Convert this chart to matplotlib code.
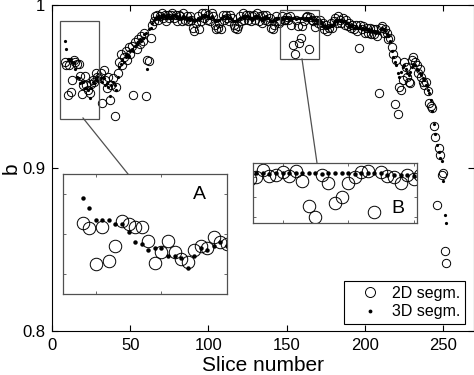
import matplotlib
matplotlib.use('Agg')
import matplotlib.pyplot as plt
from matplotlib.lines import Line2D
from matplotlib.patches import Rectangle

plt.rcParams['font.family'] = ['Liberation Sans', 'DejaVu Sans']

first_slice = 8

dots_3d = [
    # 8-30
    0.978, 0.973, 0.967, 0.967, 0.967, 0.965, 0.965, 0.961, 0.956, 0.955,
    0.952, 0.953, 0.953, 0.949, 0.949, 0.948, 0.943, 0.949, 0.953, 0.952,
    0.954, 0.956, 0.954,
    # 31-41
    0.955, 0.953, 0.955, 0.951, 0.952, 0.950, 0.944, 0.951, 0.953, 0.951, 0.948,
    # 42-66
    0.956, 0.962, 0.964, 0.966, 0.965, 0.968, 0.970, 0.969, 0.972, 0.973,
    0.972, 0.975, 0.976, 0.977, 0.979, 0.978, 0.980, 0.982, 0.983, 0.961,
    0.985, 0.986, 0.989, 0.991, 0.992,
    # 67-145
    0.992, 0.993, 0.992, 0.993, 0.994, 0.993, 0.992, 0.993, 0.993, 0.992,
    0.993, 0.994, 0.993, 0.992, 0.993, 0.992, 0.992, 0.993, 0.992, 0.991,
    0.992, 0.991, 0.992, 0.991, 0.990, 0.991, 0.992, 0.991, 0.992, 0.993,
    0.993, 0.994, 0.993, 0.993, 0.992, 0.993, 0.992, 0.991, 0.990, 0.991,
    0.991, 0.992, 0.993, 0.993, 0.992, 0.993, 0.992, 0.992, 0.991, 0.990,
    0.990, 0.991, 0.991, 0.992, 0.992, 0.993, 0.992, 0.993, 0.993, 0.992,
    0.992, 0.991, 0.992, 0.993, 0.993, 0.992, 0.992, 0.991, 0.992, 0.992,
    0.993, 0.992, 0.991, 0.990, 0.990, 0.991, 0.992, 0.992, 0.992,
    # 146-170
    0.9918, 0.9922, 0.9914, 0.9918, 0.9922, 0.9918, 0.9922, 0.9918, 0.9918, 0.9918,
    0.9914, 0.9918, 0.9922, 0.9922, 0.9918, 0.9914, 0.9918, 0.9922, 0.9918, 0.9918,
    0.9912, 0.9908, 0.9908, 0.9908, 0.9905,
    # 171-212
    0.990, 0.989, 0.988, 0.987, 0.987, 0.986, 0.987, 0.987, 0.988, 0.989,
    0.990, 0.990, 0.991, 0.990, 0.991, 0.990, 0.990, 0.989, 0.989, 0.988,
    0.987, 0.987, 0.986, 0.987, 0.986, 0.986, 0.987, 0.986, 0.985, 0.986,
    0.985, 0.985, 0.984, 0.985, 0.984, 0.984, 0.983, 0.984, 0.983, 0.985,
    0.986, 0.985,
    # 213-252
    0.984, 0.982, 0.981, 0.978, 0.972, 0.968, 0.965, 0.963, 0.958, 0.956,
    0.959, 0.962, 0.963, 0.961, 0.958, 0.957, 0.959, 0.962, 0.964, 0.963,
    0.961, 0.960, 0.958, 0.957, 0.955, 0.954, 0.951, 0.948, 0.946, 0.942,
    0.935, 0.927, 0.921, 0.914, 0.910, 0.906, 0.904, 0.892, 0.871, 0.866,
]

circles_2d = [
    # 8-30
    0.9653, 0.9631, 0.9448, 0.9633, 0.9464, 0.9538, 0.9664, 0.9648, 0.9636, 0.9636,
    0.9564, 0.9456, 0.9510, 0.9564, 0.9510, 0.9477, 0.9460, 0.9518, 0.9540, 0.9530,
    0.9584, 0.9560, 0.9550,
    # 31-41
    0.958, 0.940, 0.960, 0.954, 0.949, 0.956, 0.942, 0.951, 0.955, 0.932, 0.950,
    # 42-66
    0.958, 0.965, 0.970, 0.963, 0.968, 0.972, 0.966, 0.974, 0.970, 0.975,
    0.945, 0.977, 0.973, 0.979, 0.976, 0.981, 0.978, 0.983, 0.944, 0.966,
    0.9655, 0.980, 0.988, 0.990, 0.993,
    # 67-145
    0.994, 0.991, 0.993, 0.995, 0.992, 0.994, 0.990, 0.994, 0.992, 0.994,
    0.995, 0.992, 0.994, 0.990, 0.994, 0.993, 0.990, 0.995, 0.991, 0.993,
    0.990, 0.993, 0.991, 0.986, 0.984, 0.989, 0.993, 0.985, 0.990, 0.995,
    0.992, 0.995, 0.991, 0.994, 0.990, 0.995, 0.993, 0.988, 0.985, 0.986,
    0.989, 0.985, 0.994, 0.991, 0.994, 0.992, 0.990, 0.994, 0.992, 0.988,
    0.986, 0.985, 0.987, 0.993, 0.990, 0.995, 0.991, 0.994, 0.991, 0.994,
    0.990, 0.993, 0.994, 0.991, 0.995, 0.990, 0.993, 0.989, 0.994, 0.991,
    0.994, 0.990, 0.992, 0.986, 0.985, 0.988, 0.993, 0.990, 0.989,
    # 146-170
    0.9900, 0.9935, 0.9905, 0.9910, 0.9925, 0.9905, 0.9930, 0.9880, 0.9755, 0.9700,
    0.9910, 0.9870, 0.9768, 0.9798, 0.9870, 0.9900, 0.9925, 0.9930, 0.9727, 0.9925,
    0.9905, 0.9900, 0.9868, 0.9910, 0.9890,
    # 171-212
    0.991, 0.988, 0.989, 0.985, 0.988, 0.984, 0.986, 0.989, 0.986, 0.990,
    0.992, 0.989, 0.993, 0.991, 0.989, 0.992, 0.988, 0.991, 0.987, 0.989,
    0.986, 0.988, 0.985, 0.988, 0.984, 0.9735, 0.988, 0.985, 0.987, 0.983,
    0.986, 0.983, 0.986, 0.982, 0.985, 0.982, 0.985, 0.981, 0.946, 0.986,
    0.987, 0.983,
    # 213-252
    0.985, 0.983, 0.979, 0.980, 0.974, 0.970, 0.939, 0.966, 0.933, 0.950,
    0.948, 0.954, 0.965, 0.962, 0.956, 0.953, 0.952, 0.966, 0.968, 0.965,
    0.963, 0.958, 0.961, 0.956, 0.953, 0.951, 0.953, 0.947, 0.940, 0.938,
    0.937, 0.926, 0.919, 0.877, 0.912, 0.908, 0.896, 0.897, 0.849, 0.842,
]

slices = list(range(first_slice, first_slice + len(dots_3d)))

x_ticks = [0, 50, 100, 150, 200, 250]
y_ticks = [0.8, 0.9, 1.0]
y_tick_labels = ['0.8', '0.9', '1']

inset_a_xlim = (5, 30)
inset_a_ylim = (0.93, 0.99)
inset_b_xlim = (145.5, 170.5)
inset_b_ylim = (0.967, 0.997)

W, H = 474, 375
fig = plt.figure(figsize=(W / 100, H / 100), dpi=100)

def fx(px):
    return px / W

def fy(py):
    return 1 - py / H

ax = fig.add_axes([fx(52), fy(331), fx(474.5) - fx(52), fy(5) - fy(331)])
ax.plot(slices, circles_2d, 'o', ms=6, mfc='none', mec='black', mew=0.7, label='2D segm.')
ax.plot(slices, dots_3d, 'o', ms=2.3, mfc='black', mec='black', mew=0, label='3D segm.')
ax.set_xlim(0, 270)
ax.set_ylim(0.8, 1.0)
ax.set_xticks(x_ticks)
ax.set_yticks(y_ticks)
ax.set_yticklabels(y_tick_labels)
ax.tick_params(direction='in', top=True, right=True, length=4, width=0.8,
               labelsize=12, pad=5)
ax.set_xlabel('Slice number', fontsize=15, labelpad=2)
ax.set_ylabel('b', fontsize=15, labelpad=1)
for s in ax.spines.values():
    s.set_linewidth(0.8)

frame_col = '#505050'
for (xl, yl) in [(inset_a_xlim, inset_a_ylim), (inset_b_xlim, inset_b_ylim)]:
    ax.add_patch(Rectangle((xl[0], yl[0]), xl[1] - xl[0], yl[1] - yl[0],
                           fill=False, edgecolor=frame_col, lw=0.9, zorder=5))

leg = ax.legend(loc='lower right', bbox_to_anchor=(fx(465), fy(324)),
                bbox_transform=fig.transFigure, borderaxespad=0,
                fontsize=11.5, frameon=True, fancybox=False, framealpha=1,
                edgecolor='black', handlelength=2.7, handletextpad=0.0,
                labelspacing=0.2, borderpad=0.3, markerscale=1.2)
leg.get_frame().set_linewidth(0.8)

def make_inset(px0, py0, px1, py1, xl, yl, xt, yt, letter, lx, ly):
    ia = fig.add_axes([fx(px0), fy(py1), fx(px1) - fx(px0), fy(py0) - fy(py1)])
    ia.plot(slices, circles_2d, 'o', ms=9, mfc='none', mec='black', mew=0.7)
    ia.plot(slices, dots_3d, 'o', ms=3.2, mfc='black', mec='black', mew=0)
    ia.set_xlim(*xl)
    ia.set_ylim(*yl)
    ia.set_xticks(xt)
    ia.set_yticks(yt)
    ia.tick_params(direction='in', top=True, right=True, length=2.5, width=0.6,
                   labelbottom=False, labelleft=False, colors=frame_col)
    for s in ia.spines.values():
        s.set_color(frame_col)
        s.set_linewidth(0.9)
    ia.text(lx, ly, letter, transform=ia.transAxes, fontsize=14,
            ha='center', va='center')
    return ia

make_inset(63, 174, 227, 294, inset_a_xlim, inset_a_ylim, [10, 20],
           [0.94, 0.96, 0.98], 'A', 0.835, 0.83)
make_inset(253, 163, 417, 223, inset_b_xlim, inset_b_ylim, [150, 160, 170],
           [0.97, 0.98, 0.99], 'B', 0.885, 0.235)

fig.add_artist(Line2D([fx(83), fx(128)], [fy(118), fy(174)], color=frame_col, lw=0.9))
fig.add_artist(Line2D([fx(302), fx(317)], [fy(59), fy(163)], color=frame_col, lw=0.9))

fig.savefig('out.png', dpi=100)
